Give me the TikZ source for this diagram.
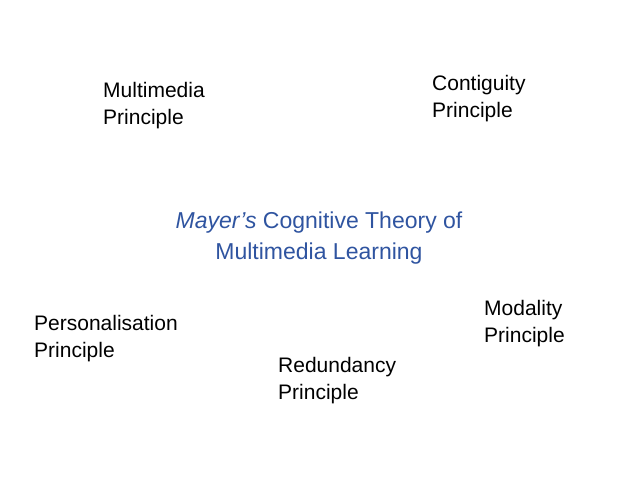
\documentclass[tikz,border=0pt]{standalone}
\usepackage{fontspec}
\setmainfont{Liberation Sans}
\definecolor{titleblue}{RGB}{47,84,160}
\begin{document}
\begin{tikzpicture}[x=1pt,y=-1pt,
  lbl/.style={anchor=west,align=left,inner sep=0pt,font=\fontsize{21}{27}\selectfont}]
\useasboundingbox (0,0) rectangle (638,478);
\node[lbl] (mm) at (103,106) {Multimedia\\Principle};
\node[lbl] (ct) at (432,99) {Contiguity\\Principle};
\node[lbl] (ps) at (34,339) {Personalisation\\Principle};
\node[lbl] (md) at (484,324) {Modality\\Principle};
\node[lbl] (rd) at (278,381) {Redundancy\\Principle};
\node[align=center,inner sep=0pt,text=titleblue,font=\fontsize{23}{31}\selectfont] (t) at (319,238) {\textit{Mayer’s} Cognitive Theory of\\Multimedia Learning};
\end{tikzpicture}
\end{document}
